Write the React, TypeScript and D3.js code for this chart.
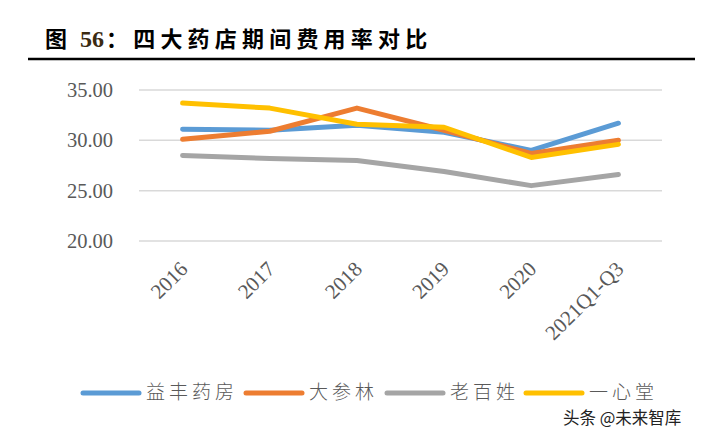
import * as d3 from "d3";

const W = 703;
const H = 438;

const CATEGORIES = ["2016", "2017", "2018", "2019", "2020", "2021Q1-Q3"];
const YI_FENG = [31.1, 31.0, 31.5, 30.8, 29.0, 31.7];
const DA_SHEN_LIN = [30.1, 30.9, 33.2, 31.0, 28.7, 30.0];
const LAO_BAI_XING = [28.5, 28.2, 28.0, 26.9, 25.5, 26.6];
const YI_XIN_TANG = [33.7, 33.2, 31.6, 31.3, 28.3, 29.6];
const Y_TICKS = [20, 25, 30, 35];

const SERIES = [
  { name: "益丰药房", values: YI_FENG, color: "#5B9BD5" },
  { name: "大参林", values: DA_SHEN_LIN, color: "#ED7D31" },
  { name: "老百姓", values: LAO_BAI_XING, color: "#A5A5A5" },
  { name: "一心堂", values: YI_XIN_TANG, color: "#FFC000" },
];

const LEGEND_X = [83, 246, 387, 526];

const PLOT = { left: 139, right: 662, top: 90, bottom: 241 };

export default function App() {
  const x = d3
    .scaleBand<string>()
    .domain(CATEGORIES)
    .range([PLOT.left, PLOT.right]);
  const y = d3.scaleLinear().domain([20, 35]).range([PLOT.bottom, PLOT.top]);
  const cx = (c: string) => (x(c) ?? 0) + x.bandwidth() / 2;

  const line = d3
    .line<number>()
    .x((_, i) => cx(CATEGORIES[i]))
    .y((v) => y(v));

  const titleFont = "'Noto Sans CJK SC', 'Liberation Serif', serif";

  return (
    <svg
      width={W}
      height={H}
      style={{ position: "absolute", left: 0, top: 0, background: "#fff" }}
    >
      {/* title */}
      <g fontSize={22} fontWeight="bold" fill="#000">
        <text x={45} y={47} fontFamily={titleFont}>
          图
        </text>
        <text x={80} y={47} fontFamily="'Liberation Serif', serif" fontSize={24} fill="#3b2a12">
          56
        </text>
        <text x={106} y={47} fontFamily={titleFont} letterSpacing={5.2}>
          ：四大药店期间费用率对比
        </text>
      </g>
      <line x1={28} x2={695} y1={59} y2={59} stroke="#000" strokeWidth={2.5} />

      {/* grid + y labels */}
      {Y_TICKS.map((t) => (
        <g key={t}>
          <line
            x1={PLOT.left}
            x2={PLOT.right}
            y1={y(t)}
            y2={y(t)}
            stroke="#d9d9d9"
            strokeWidth={1.5}
          />
          <text
            x={113}
            y={y(t) + 7}
            textAnchor="end"
            fontSize={20.5}
            fontFamily="'Liberation Serif', serif"
            fill="#595959"
          >
            {t.toFixed(2)}
          </text>
        </g>
      ))}

      {/* x labels */}
      {CATEGORIES.map((c) => (
        <text
          key={c}
          transform={`translate(${cx(c) - 4},${PLOT.bottom + 19}) rotate(-45)`}
          textAnchor="end"
          dy="0.7em"
          fontSize={21}
          fontFamily="'Liberation Serif', serif"
          fill="#595959"
        >
          {c}
        </text>
      ))}

      {/* lines */}
      {SERIES.map((s) => (
        <path
          key={s.name}
          d={line(s.values) ?? ""}
          fill="none"
          stroke={s.color}
          strokeWidth={5}
          strokeLinejoin="round"
          strokeLinecap="round"
        />
      ))}

      {/* legend */}
      {SERIES.map((s, i) => (
        <g key={s.name}>
          <line
            x1={LEGEND_X[i]}
            x2={LEGEND_X[i] + 56}
            y1={393}
            y2={393}
            stroke={s.color}
            strokeWidth={5}
            strokeLinecap="round"
          />
          <text
            x={LEGEND_X[i] + 63}
            y={399}
            fontSize={19}
            fontFamily="'Noto Sans CJK SC', sans-serif"
            fontWeight={300}
            fill="#595959"
            letterSpacing={4}
          >
            {s.name}
          </text>
        </g>
      ))}

      {/* watermark */}
      <text
        x={563}
        y={424}
        fontSize={16.5}
        fontFamily="'Noto Sans CJK SC', sans-serif"
        fill="#222"
      >
        头条 @未来智库
      </text>
    </svg>
  );
}
